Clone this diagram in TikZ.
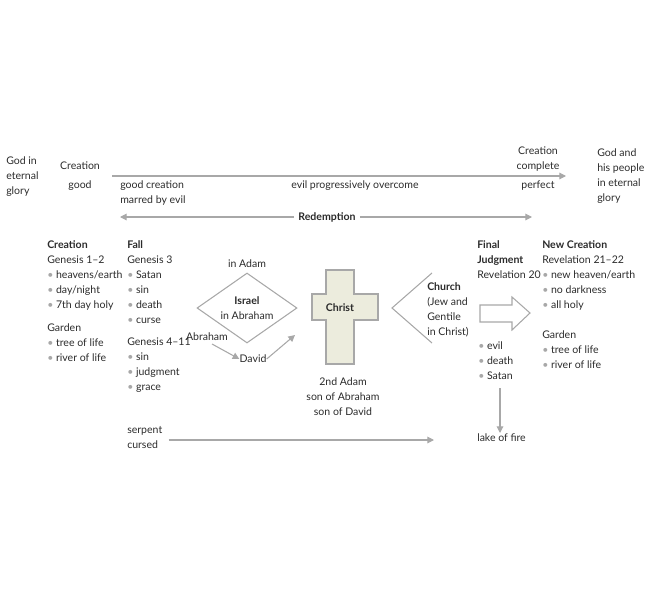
\documentclass[tikz,border=0pt]{standalone}
\usepackage{fontspec}
\setmainfont{Lato}
\usetikzlibrary{arrows.meta, positioning, shapes.geometric}
\definecolor{ink}{HTML}{2B2B2B}
\definecolor{lineg}{HTML}{A8A8A8}
\definecolor{crossfill}{HTML}{ECECDD}
\newcommand{\bul}{{\color{lineg}\textbullet}\ }
\tikzset{
    txt/.style={
        inner sep=0pt,
        text=ink,
        font=\fontsize{7.9}{11.25}\selectfont,
        align=left,
        anchor=north west
    },
    ctxt/.style={
        txt,
        align=center,
        anchor=center
    },
    flow/.style={
        draw=lineg,
        thick,
        -{Triangle[width=5pt,length=5pt]}
    }
}
\begin{document}
\begin{tikzpicture}[x=0.75pt, y=-0.75pt]
\useasboundingbox (0,0) rectangle (650,600);

% timeline
\node[txt] (eternal) at (6,156) {God in\\eternal\\glory};
\node[txt] (people) at (597,148) {God and\\his people\\in eternal\\glory};
\coordinate (tl0) at (112,176);
\coordinate (tl1) at (566,176);
\draw[flow] (tl0) -- (tl1);
\node[ctxt] (creat) at (80,166) {Creation};
\node[ctxt] (good) at (80,186) {good};
\node[txt] (marred) at (120,180) {good creation\\marred by evil};
\node[ctxt] (evil) at (355,186) {evil progressively overcome};
\node[ctxt] (complete) at (538,159) {Creation\\complete};
\node[ctxt] (perfect) at (538,186) {perfect};

% redemption
\node[ctxt, inner sep=3pt, font=\fontsize{7.9}{11.25}\selectfont\bfseries] (redemp) at (327,217) {Redemption};
\coordinate (rd0) at (120,217);
\coordinate (rd1) at (532,217);
\draw[flow] (redemp) -- (rd1);
\draw[flow] (redemp) -- (rd0);

% columns
\node[txt] (creation) at (47,240) {\textbf{Creation}\\Genesis 1--2\\\bul heavens/earth\\\bul day/night\\\bul 7th day holy};
\node[txt] (garden) at (47,323) {Garden\\\bul tree of life\\\bul river of life};
\node[txt] (fall) at (127,240) {\textbf{Fall}\\Genesis 3\\\bul Satan\\\bul sin\\\bul death\\\bul curse};
\node[txt] (gen) at (127,338) {Genesis 4--11\\\bul sin\\\bul judgment\\\bul grace};
\node[txt] (serpent) at (127,426) {serpent\\cursed};
\coordinate (sp1) at (434,440);
\draw[flow] (serpent.east |- sp1) ++(6,0) -- (sp1);

% Israel
\node[ctxt] (adam) at (247,264) {in Adam};
\node[diamond, draw=lineg, thick, inner sep=0pt, aspect=1.43,
      minimum height=70*0.75pt, minimum width=100*0.75pt] (israel) at (247,308) {};
\node[ctxt] (israeltxt) at (israel) {\textbf{Israel}\\in Abraham};
\node[ctxt] (abraham) at (207,337) {Abraham};
\node[ctxt] (david) at (253,359) {David};
\coordinate (ab0) at (212,344);
\coordinate (dv1) at (295,335);
\draw[flow] (ab0) -- (david.west);
\draw[flow] (david.east) -- (dv1);

% Christ
\draw[draw=lineg, thick, fill=crossfill]
  (326,270) -- (354,270) -- (354,294) -- (378,294) -- (378,320) -- (354,320)
  -- (354,364) -- (326,364) -- (326,320) -- (312,320) -- (312,294) -- (326,294) -- cycle;
\node[ctxt, font=\fontsize{7.9}{11.25}\selectfont\bfseries] (christ) at (340,308) {Christ};
\node[ctxt] (adam2) at (343,397) {2nd Adam\\son of Abraham\\son of David};

% Church
\coordinate (ch0) at (432,273);
\coordinate (ch1) at (392,308);
\coordinate (ch2) at (432,343);
\draw[draw=lineg, thick] (ch0) -- (ch1) -- (ch2);
\node[txt] (church) at (427,282) {\textbf{Church}\\(Jew and\\Gentile\\in Christ)};

% Final Judgment
\node[txt] (judg) at (477,240) {\textbf{Final}\\\textbf{Judgment}\\Revelation 20};
\draw[draw=lineg, thick] (480,305) -- (512,305) -- (512,297) -- (530,313)
  -- (512,330) -- (512,322) -- (480,322) -- cycle;
\node[txt] (evils) at (478,341) {\bul evil\\\bul death\\\bul Satan};
\node[txt] (lake) at (477,433) {lake of fire};
\coordinate (lk0) at (500,388);
\draw[flow] (lk0) -- (lake.north -| lk0);

% New Creation
\node[txt] (newc) at (542,240) {\textbf{New Creation}\\Revelation 21--22\\\bul new heaven/earth\\\bul no darkness\\\bul all holy};
\node[txt] (garden2) at (542,330) {Garden\\\bul tree of life\\\bul river of life};
\end{tikzpicture}
\end{document}
